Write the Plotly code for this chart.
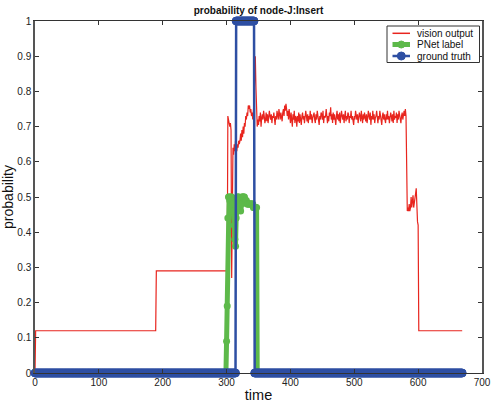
import plotly.graph_objects as go

# ---------------- data ----------------
# vision output (red): flat start steps
vision_start_t = [0, 1, 189, 190]
vision_start_p = [0.0, 0.12, 0.12, 0.29]
# frames 300..348
vision_onset_p = [0.29, 0.29, 0.73, 0.72, 0.71, 0.70, 0.71, 0.69, 0.27, 0.60,
                  0.64, 0.62, 0.65, 0.63, 0.66, 0.64, 0.63, 0.65, 0.64, 0.66,
                  0.65, 0.66, 0.68, 0.66, 0.69, 0.67, 0.70, 0.68, 0.71, 0.70,
                  0.73, 0.72, 0.74, 0.73, 0.76, 0.75, 0.76, 0.74, 0.75, 0.73,
                  0.74, 0.72, 0.74, 0.77, 0.84, 0.90, 0.81, 0.73, 0.70]
vision_onset_t0 = 300
# frames 349..581
vision_plateau_p = [
    0.72, 0.705, 0.73, 0.715, 0.74, 0.70, 0.725, 0.735, 0.72, 0.745,
    0.73, 0.71, 0.72, 0.74, 0.715, 0.735, 0.71, 0.725, 0.745, 0.73,
    0.72, 0.735, 0.71, 0.73, 0.725, 0.74, 0.72, 0.705, 0.73, 0.72,
    0.745, 0.73, 0.72, 0.75, 0.735, 0.72, 0.74, 0.73, 0.715, 0.74,
    0.75, 0.73, 0.76, 0.745, 0.765, 0.75, 0.73, 0.745, 0.72, 0.75,
    0.73, 0.71, 0.74, 0.72, 0.70, 0.735, 0.72, 0.745, 0.71, 0.73,
    0.725, 0.70, 0.73, 0.715, 0.74, 0.71, 0.735, 0.72, 0.705, 0.73,
    0.74, 0.72, 0.73, 0.71, 0.725, 0.745, 0.73, 0.715, 0.735, 0.71,
    0.73, 0.72, 0.745, 0.72, 0.735, 0.71, 0.725, 0.73, 0.74, 0.72,
    0.71, 0.735, 0.72, 0.745, 0.73, 0.715, 0.705, 0.73, 0.72, 0.74,
    0.735, 0.72, 0.745, 0.71, 0.73, 0.725, 0.73, 0.75, 0.72, 0.71,
    0.73, 0.715, 0.74, 0.73, 0.755, 0.72, 0.735, 0.71, 0.74, 0.72,
    0.735, 0.72, 0.705, 0.73, 0.745, 0.72, 0.735, 0.715, 0.74, 0.71,
    0.725, 0.745, 0.73, 0.72, 0.735, 0.71, 0.73, 0.745, 0.715, 0.73,
    0.72, 0.74, 0.735, 0.71, 0.73, 0.725, 0.745, 0.72, 0.73, 0.715,
    0.705, 0.73, 0.72, 0.745, 0.73, 0.72, 0.735, 0.71, 0.725, 0.74,
    0.73, 0.715, 0.745, 0.72, 0.71, 0.735, 0.72, 0.74, 0.73, 0.715,
    0.735, 0.71, 0.725, 0.745, 0.73, 0.72, 0.74, 0.705, 0.73, 0.72,
    0.745, 0.72, 0.735, 0.71, 0.725, 0.73, 0.745, 0.715, 0.71, 0.73,
    0.72, 0.745, 0.73, 0.715, 0.705, 0.73, 0.74, 0.72, 0.735, 0.72,
    0.71, 0.735, 0.72, 0.745, 0.72, 0.73, 0.71, 0.725, 0.74, 0.73,
    0.715, 0.735, 0.71, 0.745, 0.72, 0.73, 0.725, 0.74, 0.71, 0.735,
    0.72, 0.745, 0.73, 0.715, 0.71, 0.73, 0.74, 0.72, 0.735, 0.745,
    0.73, 0.75, 0.73]
vision_plateau_t0 = 349
# frames 582..600
vision_tail_p = [0.47, 0.46, 0.47, 0.46, 0.48, 0.46, 0.47, 0.50, 0.47, 0.49,
                 0.505, 0.47, 0.48, 0.49, 0.51, 0.525, 0.445, 0.43, 0.42]
vision_tail_t0 = 582
vision_end_t = [601, 669]
vision_end_p = [0.12, 0.12]

# PNet label (green)
pnet_edge_t = [0]
pnet_edge_p = [0.0]
pnet_t0 = 299
pnet_p = [0.0, 0.09, 0.19, 0.44, 0.50, 0.50, 0.49, 0.50, 0.49, 0.50,
          0.49, 0.48, 0.46, 0.42, 0.38, 0.36, 0.44, 0.49, 0.50, 0.50,
          0.50, 0.49, 0.47, 0.46, 0.48, 0.50, 0.50, 0.50, 0.50, 0.50,
          0.49, 0.49, 0.49, 0.48, 0.48, 0.48, 0.48, 0.48, 0.48, 0.48,
          0.48, 0.48, 0.48, 0.47, 0.47, 0.47, 0.47, 0.47, 0.47, 0.0]
pnet_end_t = [669]
pnet_end_p = [0.0]

# ground truth (blue): labelled frame intervals
gt_start = [0, 315, 344]
gt_end = [314, 343, 669]
gt_value = [0, 1, 0]

x_tickvals = [0, 100, 200, 300, 400, 500, 600, 700]
y_tickvals = [0, 0.1, 0.2, 0.3, 0.4, 0.5, 0.6, 0.7, 0.8, 0.9, 1]
y_ticktext = ["0", "0.1", "0.2", "0.3", "0.4", "0.5", "0.6", "0.7", "0.8", "0.9", "1"]
legend_labels = ["vision output", "PNet label", "ground truth"]

# ---------------- build series ----------------
vis_t = list(vision_start_t)
vis_p = list(vision_start_p)
for t0, arr in [(vision_onset_t0, vision_onset_p), (vision_plateau_t0, vision_plateau_p),
                (vision_tail_t0, vision_tail_p)]:
    vis_t += [t0 + i for i in range(len(arr))]
    vis_p += list(arr)
vis_t += vision_end_t
vis_p += vision_end_p

pn_t = list(pnet_edge_t) + [pnet_t0 + i for i in range(len(pnet_p))] + pnet_end_t
pn_p = list(pnet_edge_p) + list(pnet_p) + pnet_end_p

gt_t, gt_p = [], []
for s, e, v in zip(gt_start, gt_end, gt_value):
    for t in range(s, e + 1):
        gt_t.append(t)
        gt_p.append(v)

RED = "#E8251E"
GREEN = "#5DB94A"
BLUE = "#2E4FA3"
FONT = "Liberation Sans, Arial, Helvetica, sans-serif"

fig = go.Figure()
fig.add_trace(go.Scatter(x=vis_t, y=vis_p, mode="lines", name=legend_labels[0],
                         line=dict(color=RED, width=1.2)))
fig.add_trace(go.Scatter(x=pn_t, y=pn_p, mode="lines+markers", name=legend_labels[1],
                         line=dict(color=GREEN, width=5),
                         marker=dict(color=GREEN, size=7, symbol="circle")))
fig.add_trace(go.Scatter(x=gt_t, y=gt_p, mode="lines+markers", name=legend_labels[2],
                         line=dict(color=BLUE, width=2.5),
                         marker=dict(color=BLUE, size=8, symbol="circle",
                                     line=dict(color=BLUE, width=1)),
                         cliponaxis=False))

# plot area in pixels
L, R, T, B = 35, 482, 21, 373
W, H = 494, 404


def px(x):
    return (x - L) / (R - L)


def py(y):
    return (B - y) / (B - T)


shapes = []
annotations = []
# legend box
shapes.append(dict(type="rect", xref="paper", yref="paper",
                   x0=px(387), x1=px(479.5), y0=py(62.5), y1=py(26),
                   line=dict(color="#333", width=1), fillcolor="white", layer="above"))
rows = [33.3, 44.5, 56]
colors = [RED, GREEN, BLUE]
widths = [1.5, 5, 2.5]
for i, (yy, c, w) in enumerate(zip(rows, colors, widths)):
    shapes.append(dict(type="line", xref="paper", yref="paper",
                       x0=px(392.5), x1=px(410), y0=py(yy), y1=py(yy),
                       line=dict(color=c, width=w), layer="above"))
    if i > 0:
        d = 7 if i == 1 else 8
        shapes.append(dict(type="circle", xref="paper", yref="paper",
                           xsizemode="pixel", ysizemode="pixel",
                           xanchor=px(401.3), yanchor=py(yy),
                           x0=-d / 2, x1=d / 2, y0=-d / 2, y1=d / 2,
                           fillcolor=c, line=dict(color=c, width=1), layer="above"))
    annotations.append(dict(text=legend_labels[i], xref="paper", yref="paper",
                            x=px(414.5), y=py(yy), xanchor="left", yanchor="middle",
                            showarrow=False, font=dict(family=FONT, size=10, color="#111")))

fig.update_layout(
    width=W, height=H, autosize=False,
    margin=dict(l=L, r=W - R, t=T, b=H - B, pad=0),
    plot_bgcolor="white", paper_bgcolor="white",
    showlegend=False,
    font=dict(family=FONT, size=10, color="#222"),
    title=dict(text="<b>probability of node-J:Insert</b>", x=0.5, xref="paper",
               y=1 - 10.5 / H, yref="container", xanchor="center", yanchor="middle",
               font=dict(family=FONT, size=10, color="#111")),
    shapes=shapes, annotations=annotations,
)
fig.update_xaxes(range=[0, 700], tickvals=x_tickvals, ticks="inside", ticklen=4,
                 tickcolor="#333", showline=True, linecolor="#333", linewidth=1,
                 mirror="ticks", showgrid=False, zeroline=False,
                 tickfont=dict(family=FONT, size=10, color="#222"),
                 title=dict(text="time", font=dict(family=FONT, size=14.5, color="#111"),
                            standoff=2),
                 automargin=False)
fig.update_yaxes(range=[0, 1], tickvals=y_tickvals, ticktext=y_ticktext, ticks="inside",
                 ticklen=4, tickcolor="#333", showline=True, linecolor="#555", linewidth=1.5,
                 mirror="ticks", showgrid=False, zeroline=False,
                 tickfont=dict(family=FONT, size=10, color="#222"),
                 title=dict(text="probability", font=dict(family=FONT, size=14, color="#111"),
                            standoff=6),
                 automargin=False)

fig.write_html("out.html",
               config={"displayModeBar": False},
               post_script="document.body.style.margin='0';document.body.style.overflow='hidden';")
